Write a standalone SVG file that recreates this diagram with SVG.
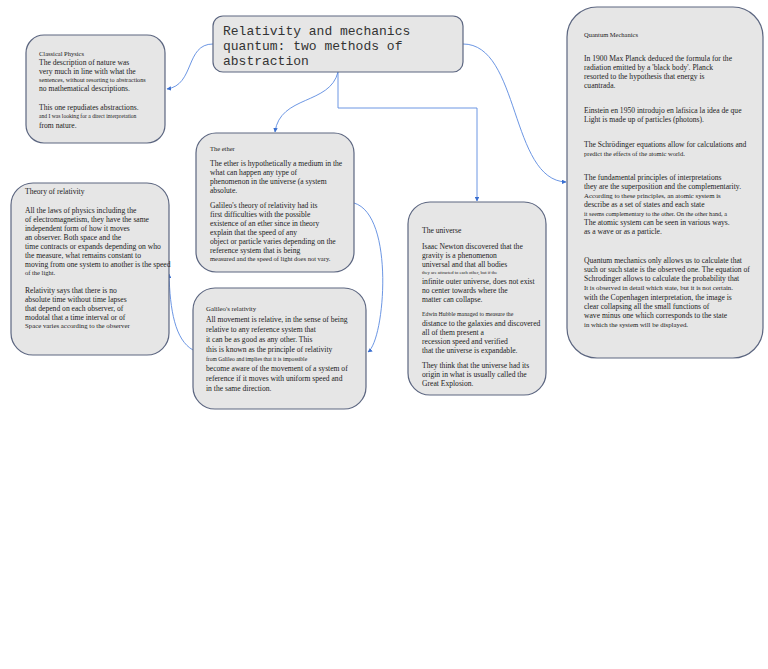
<svg xmlns="http://www.w3.org/2000/svg" width="768" height="669" viewBox="0 0 768 669">
<defs>
<marker id="a" viewBox="0 0 10 10" refX="9" refY="5" markerWidth="5" markerHeight="5" orient="auto"><path d="M0,0L10,5L0,10z" fill="#3a6fd0"/></marker>
<style>
.n{fill:#e6e6e6;stroke:#5c6680;stroke-width:1.2}
.t{font-family:"Liberation Serif",serif;font-size:7.6px;fill:#222}
.s{font-size:5.6px}
.h{font-family:"Liberation Mono",monospace;font-size:13px;fill:#333}
.c{fill:none;stroke:#5b8ae0;stroke-width:0.9}
</style>
</defs>
<rect width="768" height="669" fill="#fff"/>
<g id="connectors">
<path class="c" d="M213,44 C185,44 195,85 167,89" marker-end="url(#a)"/>
<path class="c" d="M338,72 C330,105 280,95 275,132" marker-end="url(#a)"/>
<path class="c" d="M338,72 V108 H477 V201" stroke-width="1.2" marker-end="url(#a)"/>
<path class="c" d="M463,44 C520,44 510,180 566,182" marker-end="url(#a)"/>
<path class="c" d="M354,203 C395,215 385,340 368,352" marker-end="url(#a)"/>
<path class="c" d="M193,350 C175,340 170,310 169,274" marker-end="url(#a)"/>
</g>
<g id="title"><rect class="n" x="213" y="16" width="250" height="56" rx="10"/>
<text class="h" x="223" y="35">Relativity and mechanics</text>
<text class="h" x="223" y="50">quantum: two methods of</text>
<text class="h" x="223" y="65">abstraction</text></g>
<g id="classical"><rect class="n" x="26" y="35" width="139" height="108" rx="18"/>
<text class="t"><tspan x="39" y="56" class="s" style="font-size:6.5px">Classical Physics</tspan>
<tspan x="39" y="65">The description of nature was</tspan>
<tspan x="39" y="74">very much in line with what the</tspan>
<tspan x="39" y="82" style="font-size:6.2px">sentences, without resorting to abstractions</tspan>
<tspan x="39" y="91">no mathematical descriptions.</tspan>
<tspan x="39" y="110">This one repudiates abstractions.</tspan>
<tspan x="39" y="118" class="s">and I was looking for a direct interpretation</tspan>
<tspan x="39" y="128">from nature.</tspan></text></g>
<g id="ether"><rect class="n" x="196" y="133" width="158" height="139" rx="20"/>
<text class="t"><tspan x="210" y="151" style="font-size:6.5px">The ether</tspan>
<tspan x="210" y="166">The ether is hypothetically a medium in the</tspan>
<tspan x="210" y="175">what  can  happen  any  type  of</tspan>
<tspan x="210" y="184">phenomenon  in  the  universe  (a  system</tspan>
<tspan x="210" y="193">absolute.</tspan>
<tspan x="210" y="208">Galileo's theory of relativity had its</tspan>
<tspan x="210" y="217">first  difficulties               with  the  possible</tspan>
<tspan x="210" y="226">existence of an ether since in theory</tspan>
<tspan x="210" y="235">explain  that  the  speed  of  any</tspan>
<tspan x="210" y="244">object or particle varies depending on the</tspan>
<tspan x="210" y="253">reference system that is being</tspan>
<tspan x="210" y="261" style="font-size:6.5px">measured and the speed of light does not vary.</tspan></text></g>
<g id="theory"><rect class="n" x="11" y="183" width="158" height="172" rx="22"/>
<text class="t"><tspan x="25" y="194">Theory of relativity</tspan>
<tspan x="25" y="213">All the laws of physics including the</tspan>
<tspan x="25" y="222">of electromagnetism, they have the same</tspan>
<tspan x="25" y="231">independent form of how it moves</tspan>
<tspan x="25" y="240">an observer. Both space and the</tspan>
<tspan x="25" y="249">time contracts or expands depending on who</tspan>
<tspan x="25" y="258">the measure, what remains constant to</tspan>
<tspan x="25" y="267">moving from one system to another is the speed</tspan>
<tspan x="25" y="275" style="font-size:6.5px">of the light.</tspan>
<tspan x="25" y="293">Relativity says that there is no</tspan>
<tspan x="25" y="302">absolute time without time lapses</tspan>
<tspan x="25" y="311">that depend on each observer, of</tspan>
<tspan x="25" y="320">modotal that a time interval or of</tspan>
<tspan x="25" y="328" style="font-size:6.8px">Space varies according to the observer</tspan></text></g>
<g id="galileo"><rect class="n" x="193" y="288" width="173" height="121" rx="22"/>
<text class="t"><tspan x="206" y="311" style="font-size:6.8px">Galileo's relativity</tspan>
<tspan x="206" y="322">All movement is relative, in the sense of being</tspan>
<tspan x="206" y="332">relative to any reference system that</tspan>
<tspan x="206" y="342">it can be as good as any other. This</tspan>
<tspan x="206" y="352">this is known as the principle of relativity</tspan>
<tspan x="206" y="361" class="s">from Galileo and implies that it is impossible</tspan>
<tspan x="206" y="371">become aware of the movement of a system of</tspan>
<tspan x="206" y="381">reference if it moves with uniform speed and</tspan>
<tspan x="206" y="391">in the same direction.</tspan></text></g>
<g id="universe"><rect class="n" x="408" y="202" width="138" height="193" rx="22"/>
<text class="t"><tspan x="422" y="233">The universe</tspan>
<tspan x="422" y="249">Isaac Newton discovered that the</tspan>
<tspan x="422" y="258">gravity is a phenomenon</tspan>
<tspan x="422" y="267">universal and that all bodies</tspan>
<tspan x="422" y="274" style="font-size:4.6px">they are attracted to each other, but if the</tspan>
<tspan x="422" y="284">infinite outer universe, does not exist</tspan>
<tspan x="422" y="293">no center towards where the</tspan>
<tspan x="422" y="302">matter can collapse.</tspan>
<tspan x="422" y="316" style="font-size:5.8px">Edwin Hubble managed to measure the</tspan>
<tspan x="422" y="326">distance to the galaxies and discovered</tspan>
<tspan x="422" y="335">all  of  them  present  a</tspan>
<tspan x="422" y="344">recession speed and verified</tspan>
<tspan x="422" y="353">that the universe is expandable.</tspan>
<tspan x="422" y="368">They think that the universe had its</tspan>
<tspan x="422" y="377">origin in what is usually called the</tspan>
<tspan x="422" y="386">Great Explosion.</tspan></text></g>
<g id="quantum"><rect class="n" x="567" y="7" width="196" height="351" rx="30"/>
<text class="t"><tspan x="584" y="37" style="font-size:6.5px">Quantum Mechanics</tspan>
<tspan x="584" y="61">In 1900 Max Planck deduced the formula for the</tspan>
<tspan x="584" y="70">radiation emitted by a 'black body'. Planck</tspan>
<tspan x="584" y="79">resorted to the hypothesis that energy is</tspan>
<tspan x="584" y="88">cuantrada.</tspan>
<tspan x="584" y="113">Einstein en 1950 introdujo en lafisica la idea de que</tspan>
<tspan x="584" y="122">Light is made up of particles (photons).</tspan>
<tspan x="584" y="147">The Schrödinger equations allow for calculations and</tspan>
<tspan x="584" y="156" style="font-size:6.5px">predict the effects of the atomic world.</tspan>
<tspan x="584" y="180">The fundamental principles of interpretations</tspan>
<tspan x="584" y="189">they are the superposition and the complementarity.</tspan>
<tspan x="584" y="198" style="font-size:6.8px">According to these principles, an atomic system is</tspan>
<tspan x="584" y="207">describe as a set of states and each state</tspan>
<tspan x="584" y="216" style="font-size:6.2px">it seems complementary to the other. On the other hand, a</tspan>
<tspan x="584" y="225">The atomic system can be seen in various ways.</tspan>
<tspan x="584" y="234">as a wave or as a particle.</tspan>
<tspan x="584" y="263">Quantum mechanics only allows us to calculate that</tspan>
<tspan x="584" y="272">such or such state is the observed one. The equation of</tspan>
<tspan x="584" y="281">Schrodinger allows to calculate the probability that</tspan>
<tspan x="584" y="290" style="font-size:6.8px">It is observed in detail which state, but it is not certain.</tspan>
<tspan x="584" y="300">with the Copenhagen interpretation, the image is</tspan>
<tspan x="584" y="309">clear collapsing all the small functions of</tspan>
<tspan x="584" y="318">wave minus one which corresponds to the state</tspan>
<tspan x="584" y="327" style="font-size:6.8px">in which the system will be displayed.</tspan></text></g>
</svg>
